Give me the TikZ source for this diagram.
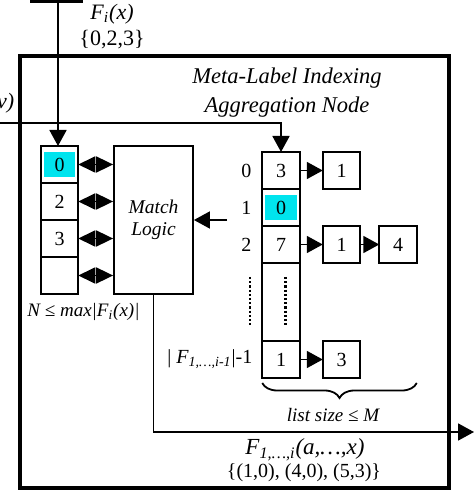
\documentclass[tikz,border=0pt]{standalone}
\usepackage{fontspec}
\setmainfont{Liberation Serif}
\usetikzlibrary{positioning,arrows.meta,decorations.pathreplacing}
\definecolor{hitcyan}{RGB}{0,228,238}

\begin{document}
\begin{tikzpicture}[x=0.5pt, y=-0.5pt, line width=0.9pt,
    cell/.style={draw, minimum width=18.75pt, minimum height=18.5pt, inner sep=0pt, outer sep=0pt, font=\fontsize{10}{12}\selectfont},
    hit/.style={path picture={\fill[hitcyan] ([shift={(1.6pt,2.8pt)}]path picture bounding box.south west) rectangle ([shift={(-1.6pt,-2.8pt)}]path picture bounding box.north east);}},
    arr/.style={-{Triangle[length=8pt,width=8.5pt]}},
    dbl/.style={{Triangle[length=8.5pt,width=8pt]}-{Triangle[length=8.5pt,width=8pt]}},
    dotline/.style={densely dotted, line width=1.1pt},
    lbl/.style={font=\fontsize{9.5}{11}\selectfont\itshape, inner sep=0pt},
    idx/.style={font=\fontsize{10}{12}\selectfont, inner sep=0pt},
    big/.style={font=\fontsize{11}{13}\selectfont, inner sep=0pt}]

    \useasboundingbox (0,0) rectangle (474,490);

    % input from above
    \draw [line width=2pt] (30,1) -- (83,1);
    \coordinate (fin) at (58,1);
    \node [big] (fname) at (112,14) {\textit{F}\textsubscript{\textit{i}}\textit{(x)}};
    \node [big] (fset) at (112,40) {\{0,2,3\}};

    % aggregation node
    \draw [line width=2pt] (20,56) rectangle (449,488);
    \node [align=center, font=\fontsize{11.25}{14.5}\selectfont\itshape] (title) at (287,92.5) {Meta-Label Indexing\\Aggregation Node};

    % label buffer
    \node [cell, hit] (l0) at (59.5,164.5) {0};
    \node [cell, below=0pt of l0] (l1) {2};
    \node [cell, below=0pt of l1] (l2) {3};
    \node [cell, below=0pt of l2] (l3) {};
    \node [draw, minimum width=39.5pt, minimum height=74pt, align=center,
           font=\fontsize{9.75}{11}\selectfont\itshape] (match) at (153.5,220) {Match\\Logic};
    \foreach \c in {l0,l1,l2,l3}
    \draw [dbl] (\c.east) -- (\c.east -| match.west);
    \node [lbl] (nmax) at (83.5,312) {N ≤ max|F\textsubscript{i}(x)|};

    \draw [arr] (fin) -- (fin |- l0.north);

    % index table
    \node [cell] (r0) at (281,170.5) {3};
    \node [cell, hit, below=0pt of r0] (r1) {0};
    \node [cell, below=0pt of r1] (r2) {7};
    \node [cell, below=0pt of r2, minimum height=39pt] (rd) {};
    \node [cell, below=0pt of rd] (rn) {1};

    \foreach \c/\t in {r0/0, r1/1, r2/2}
    \node [idx, left=5pt of \c] (i\c) {\t};
    \node [idx, left=4.5pt of rn] (irn) {| \textit{F}\textsubscript{\textit{1,\ldots,i-1}}|-1};

    \draw [dotline] (rd.center) ++(4.5,-25) -- ++(0,50);
    \draw [dotline] (rd.center) ++(-31,-25) -- ++(0,50);

    % lists
    \node [cell, right=11.5pt of r0] (a0) {1};
    \node [cell, right=11.5pt of r2] (a2) {1};
    \node [cell, right=9.5pt of a2] (b2) {4};
    \node [cell, right=11.5pt of rn] (an) {3};
    \draw [arr] (r0.east) -- (a0.west);
    \draw [arr] (r2.east) -- (a2.west);
    \draw [arr] (a2.east) -- (b2.west);
    \draw [arr] (rn.east) -- (an.west);

    \coordinate (bl) at ([yshift=-2.5pt]rn.south west);
    \draw [decorate, decoration={brace, mirror, amplitude=7.5pt}] (bl) -- (bl -| b2.east);
    \node [lbl] (lsize) at (333,415) {list size ≤ M};

    % other inputs
    \coordinate (vin) at (0,123);
    \draw [arr] (vin) -| (r0.north);
    \node [big, anchor=east] (vlbl) at (15,103) {\textit{v)}};
    \coordinate (min) at (227,220);
    \draw [arr] (min) -- (match.east);

    % output
    \coordinate (out) at (474,432);
    \draw [arr] (match.south) |- (out);
    \node [font=\fontsize{11.5}{13}\selectfont, inner sep=0pt] (outf) at (305,450) {\textit{F}\textsubscript{\textit{1,\ldots,i}}\textit{(a,\ldots,x)}};
    \node [font=\fontsize{10}{12}\selectfont, inner sep=0pt] (outset) at (304,473) {\{(1,0), (4,0), (5,3)\}};

\end{tikzpicture}
\end{document}
